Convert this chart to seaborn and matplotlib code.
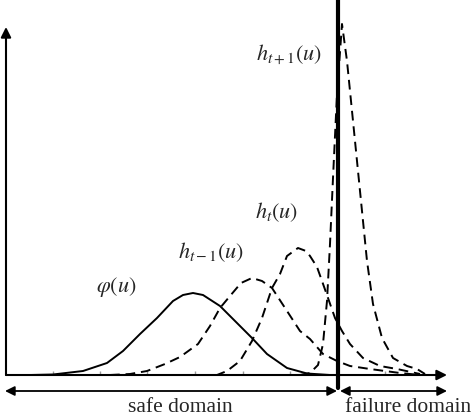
import numpy as np
import pandas as pd
import matplotlib
matplotlib.use("Agg")
import matplotlib.pyplot as plt
import seaborn as sns

# curves (u along the axis, density upward)
phi_u = [2.4, 4.7, 7.7, 10.1, 11.7, 13.4, 15.1, 16.7, 17.7, 18.7, 19.7, 21.4, 23.2, 24.6, 26.1, 28.1, 30.1, 32.4]
phi_d = [0, 0.005, 0.04, 0.12, 0.24, 0.41, 0.57, 0.74, 0.80, 0.82, 0.80, 0.69, 0.51, 0.37, 0.21, 0.07, 0.015, 0]

hprev_u = [10.4, 12.4, 14.1, 15.9, 17.4, 19.2, 20.4, 21.4, 22.4, 23.5, 24.6, 25.6, 26.6, 28.1, 29.4, 30.4, 31.7, 33.1, 34.4, 36.4, 39.4, 41.4]
hprev_d = [0, 0.01, 0.04, 0.11, 0.18, 0.31, 0.49, 0.67, 0.79, 0.92, 0.97, 0.94, 0.87, 0.64, 0.44, 0.36, 0.21, 0.14, 0.09, 0.06, 0.02, 0]

ht_u = [19.4, 21.1, 22.1, 23.4, 24.6, 25.6, 26.6, 27.4, 28.1, 29.2, 30.0, 30.4, 31.1, 31.6, 32.2, 32.9, 33.6, 34.4, 35.7, 37.4, 39.1, 41.4]
ht_d = [0, 0, 0.04, 0.14, 0.34, 0.57, 0.87, 1.01, 1.19, 1.27, 1.24, 1.19, 1.08, 0.94, 0.77, 0.57, 0.44, 0.31, 0.17, 0.09, 0.06, 0.01]

hnext_u = [29.4, 30.4, 31.2, 31.7, 32.1, 32.4, 32.7, 33.1, 33.6, 34.1, 34.6, 35.1, 35.6, 36.1, 36.7, 37.6, 38.7, 40.1, 41.1, 41.9]
hnext_d = [0, 0.02, 0.10, 0.31, 0.74, 1.31, 1.97, 2.81, 3.51, 3.14, 2.64, 2.14, 1.64, 1.14, 0.71, 0.37, 0.17, 0.09, 0.06, 0.01]

threshold = 33.2
tick_pos = [4.7, 9.4, 14.1, 18.9, 23.7, 28.4, 33.2, 37.9]

sns.set_style("white")
plt.rcParams["font.family"] = ["Liberation Serif", "DejaVu Serif"]
plt.rcParams["mathtext.fontset"] = "stix"

fig = plt.figure(figsize=(4.74, 4.16), dpi=100)
ax = fig.add_axes([0, 0, 1, 1])

dash = (0, (5, 3))
sns.lineplot(x=phi_u, y=phi_d, ax=ax, color="black", lw=1.4, sort=False, estimator=None)
sns.lineplot(x=hprev_u, y=hprev_d, ax=ax, color="black", lw=1.4, linestyle=dash, sort=False, estimator=None)
sns.lineplot(x=ht_u, y=ht_d, ax=ax, color="black", lw=1.4, linestyle=dash, sort=False, estimator=None)
sns.lineplot(x=hnext_u, y=hnext_d, ax=ax, color="black", lw=1.4, linestyle=dash, sort=False, estimator=None)

# limit state line
ax.axvline(threshold, ymin=0.067, ymax=1, color="black", lw=3)

ax.set_xlim(-0.6, 46.8)
ax.set_ylim(-0.41, 3.75)

# axes with arrows
ap = dict(arrowstyle="-|>", lw=1.5, color="black", mutation_scale=15, shrinkA=0, shrinkB=0)
ax.annotate("", xy=(44.1, 0), xytext=(0, 0), arrowprops=ap)
ax.annotate("", xy=(0, 3.48), xytext=(0, 0), arrowprops=ap)

# domain arrows
ap2 = dict(arrowstyle="<|-|>", lw=1.3, color="black", mutation_scale=14, shrinkA=0, shrinkB=0)
ax.annotate("", xy=(-0.1, -0.16), xytext=(threshold - 0.1, -0.16), arrowprops=ap2)
ax.annotate("", xy=(threshold + 0.2, -0.16), xytext=(44.1, -0.16), arrowprops=ap2)

for s in ax.spines.values():
    s.set_visible(False)
ax.spines["bottom"].set_position(("data", 0))
ax.set_xticks(tick_pos)
ax.set_xticklabels([])
ax.set_yticks([])
ax.tick_params(axis="x", direction="in", length=3, color="0.6", width=1, bottom=True)

ax.text(11.0, 0.88, r"$\varphi(u)$", fontsize=16, ha="center", va="center")
ax.text(20.5, 1.23, r"$h_{t-1}(u)$", fontsize=16, ha="center", va="center")
ax.text(27.1, 1.63, r"$h_{t}(u)$", fontsize=16, ha="center", va="center")
ax.text(28.3, 3.20, r"$h_{t+1}(u)$", fontsize=16, ha="center", va="center")

ax.text(17.4, -0.32, "safe domain", fontsize=15.5, ha="center", va="center")
ax.text(40.2, -0.32, "failure domain", fontsize=15.5, ha="center", va="center")

fig.savefig("out.png", dpi=100)
